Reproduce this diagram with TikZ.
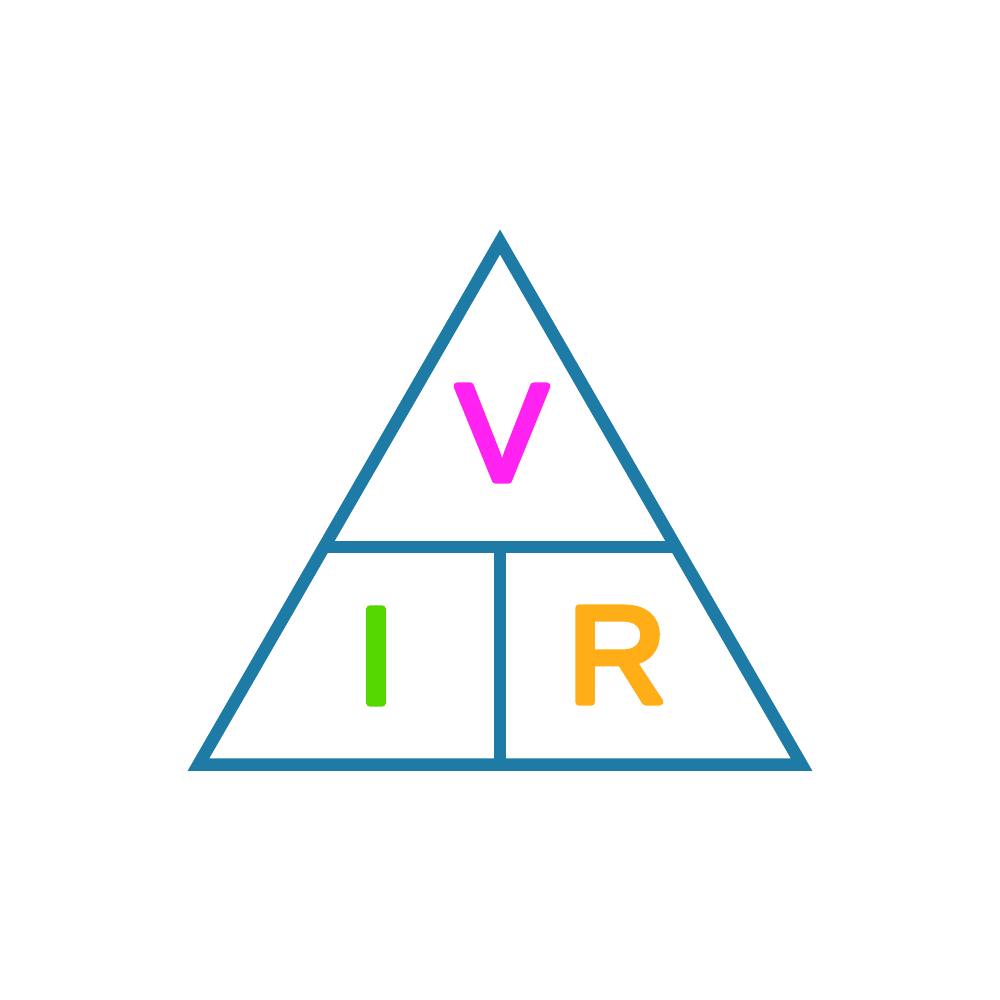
\documentclass[tikz,border=0pt]{standalone}
\usepackage{fontspec}
\setmainfont{Liberation Sans}
\newfontfamily\roundfont[FakeBold=5]{Liberation Sans}
\definecolor{triblue}{HTML}{1E7BA6}
\definecolor{vmag}{HTML}{FF22F0}
\definecolor{igreen}{HTML}{55D800}
\definecolor{rorange}{HTML}{FFAE17}
\begin{document}
\begin{tikzpicture}[x=1pt,y=-1pt,
  edge/.style={draw=triblue,line width=12.5pt},
  letter/.style={inner sep=0pt,line join=round,line cap=round,
    font=\fontsize{137}{150}\roundfont}]
\useasboundingbox (0,0) rectangle (1000,1000);
\coordinate (A) at (500,242);
\coordinate (B) at (198.5,764.5);
\coordinate (C) at (801.5,764.5);
\coordinate (L) at (324,547);
\coordinate (Rr) at (676,547);
\coordinate (M) at (500,547);
\coordinate (Mb) at (500,764.5);
\draw[edge,line join=miter] (A) -- (B) -- (C) -- cycle;
\draw[edge,line width=11.5pt] (L) -- (Rr);
\draw[edge,line width=12pt] (M) -- (Mb);
\node[letter,text=vmag] (v) at (502,433) {V};
\node[letter,text=igreen] (i) at (376,656) {I};
\node[letter,text=rorange] (r) at (617,655) {R};
\end{tikzpicture}
\end{document}
